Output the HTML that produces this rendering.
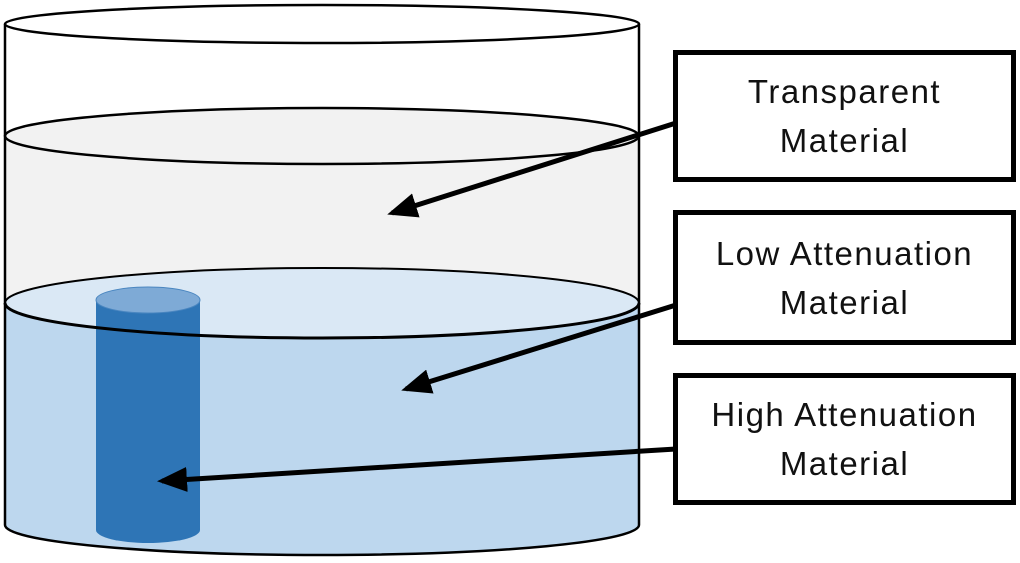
<!DOCTYPE html>
<html><head><style>
html,body{margin:0;padding:0;background:#fff;}
body{width:1020px;height:563px;position:relative;overflow:hidden;font-family:"Liberation Sans",sans-serif;}
.box{position:absolute;left:673px;width:333px;border:5px solid #000;background:#fff;display:flex;justify-content:center;align-items:center;font-size:33px;letter-spacing:1.5px;line-height:49px;color:#111;}
.box span{display:block;text-align:center;}
</style></head><body>
<svg width="1020" height="563" style="position:absolute;left:0;top:0">
<defs><marker id="a" markerWidth="6" markerHeight="5" refX="5" refY="2.5" orient="auto"><path d="M0,0 L6,2.5 L0,5 z" fill="#000"/></marker></defs>
<path d="M5,136 A317,28 0 0 1 639,136 L639,303 L5,303 Z" fill="#f2f2f2"/>
<path d="M5,303 L639,303 L639,525 A317,30 0 0 1 5,525 Z" fill="#bdd7ee"/>
<ellipse cx="322" cy="303" rx="317" ry="35" fill="#dae8f5"/>
<path d="M96,300 L200,300 L200,530 A52,13 0 0 1 96,530 Z" fill="#2e75b6"/>
<ellipse cx="148" cy="300" rx="52" ry="13" fill="#7eaad6" stroke="#4a86c0" stroke-width="1"/>
<ellipse cx="322" cy="24" rx="317" ry="19" fill="none" stroke="#000" stroke-width="2.5"/>
<ellipse cx="322" cy="136" rx="317" ry="28" fill="none" stroke="#000" stroke-width="2.5"/>
<path d="M5,303 A317,35 0 0 0 639,303" fill="none" stroke="#000" stroke-width="3"/>
<path d="M5,303 A317,35 0 0 1 639,303" fill="none" stroke="#000" stroke-width="2"/>
<line x1="5" y1="24" x2="5" y2="525" stroke="#000" stroke-width="2.5"/>
<line x1="639" y1="24" x2="639" y2="525" stroke="#000" stroke-width="2.5"/>
<path d="M5,525 A317,30 0 0 0 639,525" fill="none" stroke="#000" stroke-width="2.5"/>
<line x1="676" y1="123" x2="392" y2="213" stroke="#000" stroke-width="5" marker-end="url(#a)"/>
<line x1="676" y1="305" x2="406" y2="389" stroke="#000" stroke-width="5" marker-end="url(#a)"/>
<line x1="676" y1="449" x2="162" y2="481" stroke="#000" stroke-width="5" marker-end="url(#a)"/>
</svg>
<div class="box" style="top:50px;height:122px;"><span>Transparent<br>Material</span></div>
<div class="box" style="top:210px;height:125px;"><span>Low Attenuation<br>Material</span></div>
<div class="box" style="top:373px;height:122px;"><span>High Attenuation<br>Material</span></div>
</body></html>
